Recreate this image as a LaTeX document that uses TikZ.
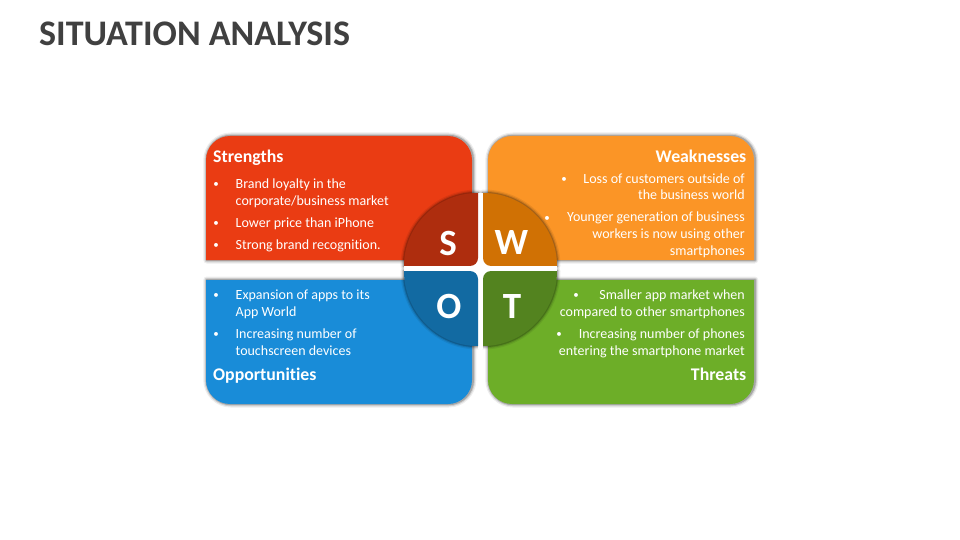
\documentclass[tikz,border=0pt]{standalone}
\usepackage{fontspec}
\setmainfont{Carlito}[Ligatures=CommonOff]
\definecolor{cred}{HTML}{EA3C13}
\definecolor{corange}{HTML}{FB9526}
\definecolor{cblue}{HTML}{198CD8}
\definecolor{cgreen}{HTML}{6DAE28}
\definecolor{dred}{HTML}{AE2D0E}
\definecolor{dorange}{HTML}{D07104}
\definecolor{dblue}{HTML}{126AA2}
\definecolor{dgreen}{HTML}{53831F}
\definecolor{titlegray}{HTML}{404040}
\tikzset{
  softa/.style={draw=black,opacity=0.07,line width=7pt,line join=round},
  softb/.style={draw=black,opacity=0.12,line width=4.5pt,line join=round},
  softc/.style={draw=black,opacity=0.20,line width=2.4pt,line join=round},
  headl/.style={text=white,font=\fontsize{17.8}{18}\selectfont\bfseries,inner sep=0pt},
  bodyt/.style={text=white,font=\fontsize{14}{17}\selectfont,inner sep=0pt},
  bull/.style={text=white,font=\fontsize{11}{17}\selectfont,inner sep=0pt},
  letterl/.style={text=white,font=\fontsize{37}{40}\selectfont\bfseries,inner sep=0pt},
}
% \softshape{path}{fill colour}{shadow shift}
\newcommand{\softshape}[3]{%
  \begin{scope}[shift={#3}]
    \path[softa] #1;
    \path[softb] #1;
    \path[softc] #1;
  \end{scope}
  \fill[#2] #1;
}
\begin{document}
\begin{tikzpicture}[x=1pt,y=-1pt]
\useasboundingbox (0,0) rectangle (960,540);
\fill[white] (0,0) rectangle (960,540);
\node[anchor=base west,inner sep=0pt,text=titlegray,font=\fontsize{36}{38}\selectfont\bfseries] (title) at (39,46) {SITUATION ANALYSIS};

% Cards
\softshape{(206,260) -- (206,160) .. controls (206,146.8) and (216.8,136) .. (230,136) -- (448,136) .. controls (461.2,136) and (472,146.8) .. (472,160) -- (472,260) -- cycle}{cred}{(0.8,0)}
\softshape{(488,260) -- (488,160) .. controls (488,146.8) and (498.8,136) .. (512,136) -- (730,136) .. controls (743.2,136) and (754,146.8) .. (754,160) -- (754,260) -- cycle}{corange}{(0.8,0)}
\softshape{(206,280) -- (472,280) -- (472,380) .. controls (472,393.2) and (461.2,404) .. (448,404) -- (230,404) .. controls (216.8,404) and (206,393.2) .. (206,380) -- cycle}{cblue}{(0.8,0)}
\softshape{(488,280) -- (754,280) -- (754,380) .. controls (754,393.2) and (743.2,404) .. (730,404) -- (512,404) .. controls (498.8,404) and (488,393.2) .. (488,380) -- cycle}{cgreen}{(0.8,0)}

% Strengths
\node[headl,anchor=base west] (shead) at (213,162.5) {Strengths};
\node[bull,anchor=base] (sb1) at (216,187.5) {•};
\node[bodyt,anchor=base west,align=left] (st1) at (235.5,205) {Brand loyalty in the\\corporate/business market};
\node[bull,anchor=base] (sb2) at (216,226.5) {•};
\node[bodyt,anchor=base west] (st2) at (235.5,227) {Lower price than iPhone};
\node[bull,anchor=base] (sb3) at (216,248.5) {•};
\node[bodyt,anchor=base west] (st3) at (235.5,249) {Strong brand recognition.};

% Weaknesses
\node[headl,anchor=base east] (whead) at (746.5,162.5) {Weaknesses};
\node[bull,anchor=base] (wb1) at (564,182.5) {•};
\node[bodyt,anchor=base east,align=right] (wt1) at (745,200) {Loss of customers outside of\\the business world};
\node[bull,anchor=base] (wb2) at (547,221.5) {•};
\node[bodyt,anchor=base east,align=right] (wt2) at (745,255.5) {Younger generation of business\\workers is now using other\\smartphones};

% Opportunities
\node[bull,anchor=base] (ob1) at (216,298.5) {•};
\node[bodyt,anchor=base west,align=left] (ot1) at (235.5,316) {Expansion of apps to its\\App World};
\node[bull,anchor=base] (ob2) at (216,337.5) {•};
\node[bodyt,anchor=base west,align=left] (ot2) at (235.5,355) {Increasing number of\\touchscreen devices};
\node[headl,anchor=base west] (ohead) at (213,380) {Opportunities};

% Threats
\node[bull,anchor=base] (tb1) at (576,298.5) {•};
\node[bodyt,anchor=base east,align=right] (tt1) at (745,316) {Smaller app market when\\compared to other smartphones};
\node[bull,anchor=base] (tb2) at (559,337.5) {•};
\node[bodyt,anchor=base east,align=right] (tt2) at (745,355) {Increasing number of phones\\entering the smartphone market};
\node[headl,anchor=base east] (thead) at (746.5,380) {Threats};

% Quarter discs
\softshape{(478,193) -- (478,258) .. controls (478,262.4) and (474.4,266) .. (470,266) -- (404,266) .. controls (404,225.7) and (437,193) .. (478,193) -- cycle}{dred}{(0,0)}
\softshape{(483,193) -- (483,258) .. controls (483,262.4) and (486.6,266) .. (491,266) -- (557,266) .. controls (557,225.7) and (524,193) .. (483,193) -- cycle}{dorange}{(0,0)}
\softshape{(478,346) -- (478,279) .. controls (478,274.6) and (474.4,271) .. (470,271) -- (404,271) .. controls (404,311.9) and (437,346) .. (478,346) -- cycle}{dblue}{(0,0)}
\softshape{(483,346) -- (483,279) .. controls (483,274.6) and (486.6,271) .. (491,271) -- (557,271) .. controls (557,311.9) and (524,346) .. (483,346) -- cycle}{dgreen}{(0,0)}
% keep the cross between the discs white
\fill[white] (478,193) rectangle (483,349);
\fill[white] (404,266) rectangle (478,271);
\fill[white] (483,266) rectangle (557,271);
% clear the shadows inside the rounded centre notch
\fill[white] (470,258) rectangle (491,279);
\fill[dred] (478,193) -- (478,258) .. controls (478,262.4) and (474.4,266) .. (470,266) -- (470,258) -- cycle;
\fill[dorange] (483,193) -- (483,258) .. controls (483,262.4) and (486.6,266) .. (491,266) -- (491,258) -- cycle;
\fill[dblue] (478,346) -- (478,279) .. controls (478,274.6) and (474.4,271) .. (470,271) -- (470,279) -- cycle;
\fill[dgreen] (483,346) -- (483,279) .. controls (483,274.6) and (486.6,271) .. (491,271) -- (491,279) -- cycle;

\node[letterl,anchor=base] (ls) at (448,255) {S};
\node[letterl,anchor=base] (lw) at (511.5,254.5) {W};
\node[letterl,anchor=base] (lo) at (449,318) {O};
\node[letterl,anchor=base] (lt) at (512,318) {T};
\end{tikzpicture}
\end{document}
